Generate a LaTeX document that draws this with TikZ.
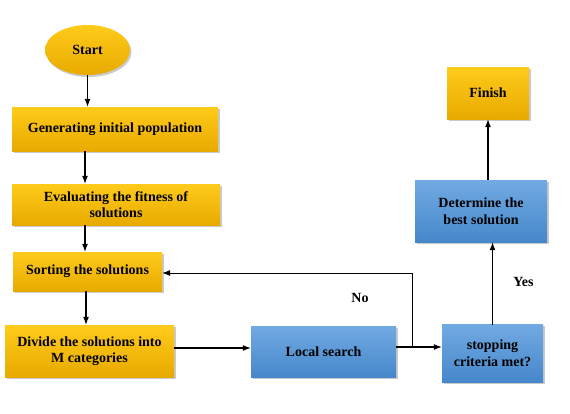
\documentclass[tikz,border=0pt]{standalone}
\usepackage{fontspec}
\setmainfont{Liberation Serif}
\usetikzlibrary{shapes.geometric,arrows.meta,shadows}
\definecolor{ytop}{HTML}{FFCB1A}
\definecolor{ybot}{HTML}{E8AA00}
\definecolor{btop}{HTML}{72AAE2}
\definecolor{bbot}{HTML}{4687CB}
\tikzset{
  shd/.style={drop shadow={shadow xshift=1.5pt,shadow yshift=-2pt,opacity=0.35,fill=black!60}},
  ybox/.style={rectangle,top color=ytop,bottom color=ybot,shd,draw=none,align=center,
    font=\fontsize{14}{16.5}\selectfont\bfseries,inner sep=2pt},
  bbox/.style={rectangle,top color=btop,bottom color=bbot,shd,draw=none,align=center,
    font=\fontsize{14}{16.5}\selectfont\bfseries,inner sep=2pt},
  arr/.style={line width=1.1pt,-{Latex[length=8pt,width=6pt]}},
  thin/.style={line width=0.8pt},
  lbl/.style={font=\fontsize{14}{16}\selectfont\bfseries}
}
\begin{document}
\begin{tikzpicture}[x=1pt,y=1pt]
\useasboundingbox (0,0) rectangle (570,-413);
\node[ellipse,top color=ytop,bottom color=ybot,shd,minimum width=85pt,minimum height=50pt,inner sep=0pt,font=\fontsize{14}{16}\selectfont\bfseries] (start) at (87.5,-50) {Start};
\node[ybox,minimum width=206pt,minimum height=44pt] (gen) at (115,-129) {Generating initial population};
\node[ybox,minimum width=208pt,minimum height=41pt] (eval) at (116,-204.5) {Evaluating the fitness of\\solutions};
\node[ybox,minimum width=149pt,minimum height=39pt] (sort) at (87.5,-271.5) {Sorting the solutions};
\node[ybox,minimum width=169pt,minimum height=52pt] (div) at (89.5,-351) {Divide the solutions into\\M categories};
\node[bbox,minimum width=145pt,minimum height=51pt] (local) at (323.5,-351.5) {Local search};
\node[bbox,minimum width=101pt,minimum height=58pt] (stop) at (492.5,-353) {stopping\\criteria met?};
\node[bbox,minimum width=132pt,minimum height=62pt] (det) at (481,-211) {Determine the\\best solution};
\node[ybox,minimum width=82pt,minimum height=52pt] (fin) at (488,-93) {Finish};

\draw[arr] (start.south) -- (start.south |- gen.north);
\draw[arr] ([xshift=-30pt]gen.south) -- ([xshift=-30pt]gen.south |- eval.north);
\draw[arr] ([xshift=-31pt]eval.south) -- ([xshift=-31pt]eval.south |- sort.north);
\draw[arr] ([xshift=-1.5pt]sort.south) -- ([xshift=-1.5pt]sort.south |- div.north);
\draw[arr] ([yshift=3pt]div.east) -- ([yshift=3pt]div.east -| local.west);
\draw[arr] ([yshift=4.5pt]local.east) -- ([yshift=4.5pt]local.east -| stop.west);
\coordinate (br) at (412,-347);
\coordinate (corner) at (412,-273);
\draw[thin] (br) -- (corner);
\draw[thin,-{Latex[length=8pt,width=6pt]}] (corner) -- (corner -| sort.east);
\draw[arr] ([yshift=-1pt]stop.north) -- (stop.north |- det.south);
\draw[arr] (fin.south |- det.north) -- (fin.south);
\node[lbl] (no) at (360,-298) {No};
\node[lbl] (yes) at (523.5,-282) {Yes};
\end{tikzpicture}
\end{document}
